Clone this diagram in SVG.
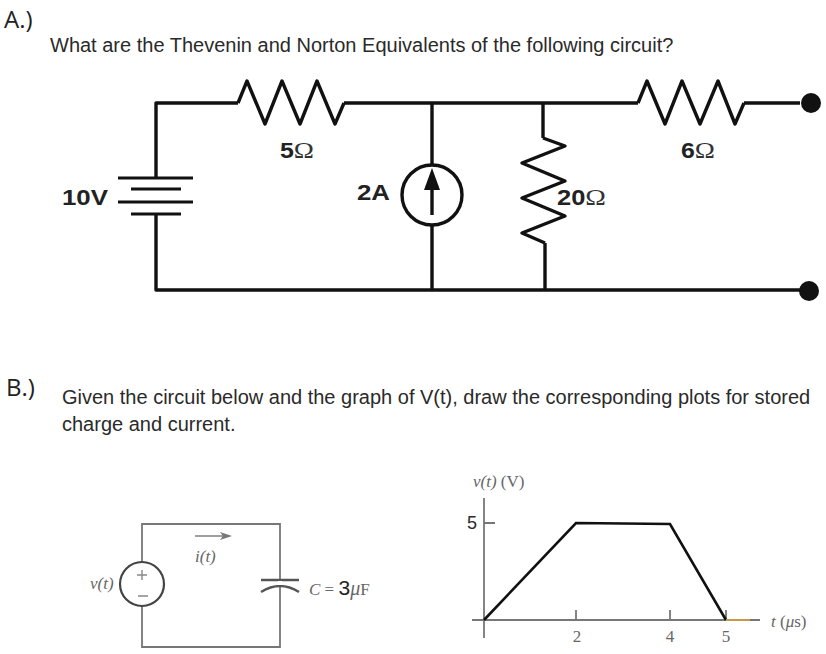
<svg xmlns="http://www.w3.org/2000/svg" width="826" height="654" viewBox="0 0 826 654">
<style>
.t{font-family:"Liberation Sans",Arial,sans-serif;fill:#2a2a2a}
.h{font-family:"Open Sans",sans-serif;font-size:24px;fill:#222}
.b{font-family:"Liberation Sans",Arial,sans-serif;font-weight:bold;font-size:22px;fill:#222}
.o{font-family:"Liberation Serif",serif;font-weight:normal;fill:#333;font-size:24px}
.w{fill:none;stroke:#111;stroke-width:3.4;stroke-linejoin:round}
.p{fill:none;stroke:#111;stroke-width:2.8}
.g{fill:none;stroke:#777;stroke-width:1.8}
.s{font-family:"Liberation Serif",serif;font-style:italic;fill:#666;font-size:17px}
.n{font-family:"Liberation Serif",serif;fill:#666;font-size:17px;font-style:normal}
</style>
<rect width="826" height="654" fill="#fff"/>
<g id="text">
<text class="h" x="4" y="28">A.)</text>
<text class="t" x="50" y="52" font-size="20">What are the Thevenin and Norton Equivalents of the following circuit?</text>
<text class="h" x="6" y="396">B.)</text>
<text class="t" x="62" y="404" font-size="20">Given the circuit below and the graph of V(t), draw the corresponding plots for stored</text>
<text class="t" x="62" y="431" font-size="20">charge and current.</text>
</g>
<g id="connectors">
<path class="w" d="M156 178V103H238M344 103H638M744 103H800M432 103V165M432 225V290M543 103V138M545 243V290M156 214V290H800"/>
<path class="g" d="M142 562V524H280V647H142V606"/>
</g>
<g id="r5"><path class="w" d="M238 103L247 81L265 124L282 81L300 124L317 81L335 124L344 103"/><text class="b" x="280" y="158" textLength="34" lengthAdjust="spacingAndGlyphs">5<tspan class="o">Ω</tspan></text></g>
<g id="r6"><path class="w" d="M638 103L647 81L665 124L682 81L700 124L718 81L735 124L744 103"/><text class="b" x="681" y="158" textLength="34" lengthAdjust="spacingAndGlyphs">6<tspan class="o">Ω</tspan></text></g>
<g id="r20"><path class="w" d="M543 138L565 146L522 163L565 181L522 198L565 216L522 233L545 243"/><text class="b" x="557" y="205" textLength="49" lengthAdjust="spacingAndGlyphs">20<tspan class="o">Ω</tspan></text></g>
<g id="battery"><path class="p" d="M118 178H193M131 189H181M118 202H193M131 214H181"/><text class="b" x="62" y="205" textLength="46" lengthAdjust="spacingAndGlyphs">10V</text></g>
<g id="isource"><circle class="w" cx="432" cy="195" r="30"/><path class="w" d="M432 185V215"/><path d="M432 168L440 190H424Z" fill="#111"/><text class="b" x="357" y="200" textLength="33" lengthAdjust="spacingAndGlyphs">2A</text></g>
<g id="t1"><circle cx="811" cy="103" r="10" fill="#111"/></g>
<g id="t2"><circle cx="809" cy="291" r="10" fill="#111"/></g>
<g id="vsource"><circle cx="142" cy="584" r="22" fill="#fff" stroke="#444" stroke-width="2.2"/><path d="M137 575H147M142 570V580M138 596H148" fill="none" stroke="#888" stroke-width="1.4"/><text class="s" x="90" y="589">v(t)</text></g>
<g id="current"><path d="M195 536H226" stroke="#777" stroke-width="1.4" fill="none"/><path d="M232 536L220 532L223 536L220 540Z" fill="#777"/><text class="s" x="195" y="562">i(t)</text></g>
<g id="cap"><path d="M261 580H299" stroke="#555" stroke-width="2.4" fill="none"/><path d="M261 592Q280 580 299 592" stroke="#555" stroke-width="2.4" fill="none"/><rect x="278" y="581" width="4" height="4" fill="#fff"/><text class="s" x="309" y="595" font-size="19">C<tspan class="n" font-size="19"> = </tspan><tspan font-family="Liberation Sans" font-style="normal" fill="#222" font-size="21">3</tspan><tspan font-size="20">μ</tspan><tspan class="n" font-size="20">F</tspan></text></g>
<g id="graph">
<path class="g" d="M484 498V638M472 620H760M484 523H495M576 610V620M670 610V620M726 610V620"/>
<path fill="none" stroke="#111" stroke-width="2.6" d="M484 620L576 523L670 524L726 620"/>
<path d="M726 620H750" stroke="#d9a441" stroke-width="1.6" fill="none"/>
<text class="s" x="473" y="487" font-size="18">v(t)<tspan class="n" font-size="18"> (V)</tspan></text>
<text class="t" x="467" y="529" font-size="18">5</text>
<text class="n" x="577" y="642" text-anchor="middle">2</text>
<text class="n" x="670" y="642" text-anchor="middle">4</text>
<text class="n" x="726" y="642" text-anchor="middle">5</text>
<text class="s" x="771" y="627">t<tspan class="n"> (</tspan>μ<tspan class="n">s)</tspan></text>
</g>
</svg>
